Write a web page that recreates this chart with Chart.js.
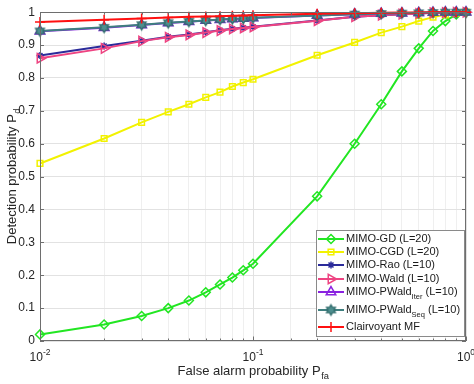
<!DOCTYPE html>
<html><head><meta charset="utf-8">
<script src="https://cdn.jsdelivr.net/npm/chart.js@4/dist/chart.umd.min.js"></script>
<style>html,body{margin:0;padding:0;background:#fff}</style>
</head><body>
<canvas id="c" width="474" height="384" style="display:block;width:474px;height:384px"></canvas>
<script>
// ---- data ----
const falseAlarm = [0.01,0.02,0.03,0.04,0.05,0.06,0.07,0.08,0.09,0.1,0.2,0.3,0.4,0.5,0.6,0.7,0.8,0.9,1];
const pdGD   = [0.02,0.05,0.076,0.10,0.123,0.148,0.172,0.193,0.215,0.235,0.44,0.60,0.72,0.82,0.89,0.943,0.973,0.993,1.0];
const pdCGD  = [0.54,0.616,0.665,0.697,0.72,0.741,0.757,0.774,0.786,0.796,0.869,0.908,0.938,0.956,0.973,0.985,0.992,0.997,1.0];
const pdRao  = [0.868,0.897,0.913,0.925,0.932,0.939,0.945,0.95,0.953,0.956,0.975,0.986,0.991,0.994,0.996,0.998,0.999,1.0,1.0];
const pdWald = [0.86,0.89,0.912,0.924,0.931,0.938,0.944,0.949,0.952,0.955,0.974,0.986,0.991,0.994,0.996,0.998,0.999,1.0,1.0];
const pdPWaldIter = [0.942,0.953,0.961,0.967,0.971,0.975,0.977,0.979,0.981,0.982,0.99,0.994,0.996,0.997,0.998,0.999,1,1,1];
const pdPWaldSeq  = [0.943,0.954,0.962,0.968,0.972,0.975,0.978,0.98,0.981,0.983,0.99,0.994,0.996,0.997,0.998,0.999,1,1,1];
const pdMF   = [0.970,0.977,0.981,0.984,0.986,0.987,0.988,0.989,0.99,0.991,0.995,0.997,0.998,0.999,0.999,1,1,1,1];
const seriesNames = ['MIMO-GD (L=20)','MIMO-CGD (L=20)','MIMO-Rao (L=10)','MIMO-Wald (L=10)','MIMO-PWald|Iter| (L=10)','MIMO-PWald|Seq| (L=10)','Clairvoyant MF'];
const yTickValues = [0,0.1,0.2,0.3,0.4,0.5,0.6,0.7,0.8,0.9,1];
const xTickExponents = [-2,-1,0];
const xTitle = ['False alarm probability P','fa'];
const yTitle = ['Detection probability P','d'];

const FONT = '"Liberation Sans", Arial, Helvetica, sans-serif';

function hexagram(r, fill, stroke){
  const s = Math.ceil(2*r+4), c = document.createElement('canvas');
  c.width = s; c.height = s;
  const g = c.getContext('2d'), cx = s/2, cy = s/2, ri = r/Math.sqrt(3);
  g.beginPath();
  for (let k=0;k<12;k++){
    const a = -Math.PI/2 + k*Math.PI/6, rr = (k%2===0)? r : ri;
    const px = cx + rr*Math.cos(a), py = cy + rr*Math.sin(a);
    k===0 ? g.moveTo(px,py) : g.lineTo(px,py);
  }
  g.closePath(); g.fillStyle = fill; g.fill(); g.lineWidth = 1.2; g.strokeStyle = stroke; g.stroke();
  return c;
}
const seqStar = hexagram(5.2, '#4f8f8f', '#2e6a6a');

const styles = [
  {color:'#22e622', pointStyle:'rectRot', radius:4.5, rotation:0, fill:'rgba(0,0,0,0)'},
  {color:'#f2f200', pointStyle:'rect', radius:4, rotation:0, fill:'rgba(0,0,0,0)'},
  {color:'#2b2b9a', pointStyle:'star', radius:3.5, rotation:0, fill:'rgba(0,0,0,0)'},
  {color:'#ee4482', pointStyle:'triangle', radius:5.5, rotation:90, fill:'rgba(0,0,0,0)'},
  {color:'#8a22e0', pointStyle:'triangle', radius:5.5, rotation:0, fill:'rgba(0,0,0,0)'},
  {color:'#3f7f7f', pointStyle:seqStar, radius:5, rotation:0, fill:'#4f8f8f'},
  {color:'#ff1010', pointStyle:'cross', radius:5, rotation:0, fill:'rgba(0,0,0,0)'}
];
const series = [pdGD, pdCGD, pdRao, pdWald, pdPWaldIter, pdPWaldSeq, pdMF];

const datasets = series.map((vals,i)=>({
  label: seriesNames[i],
  data: falseAlarm.map((x,j)=>({x:x, y:vals[j]})),
  borderColor: styles[i].color,
  backgroundColor: styles[i].fill,
  pointBorderColor: styles[i].color,
  pointBackgroundColor: styles[i].fill,
  pointStyle: styles[i].pointStyle,
  pointRadius: styles[i].radius,
  pointRotation: styles[i].rotation,
  pointBorderWidth: 1.5,
  borderWidth: 2,
  tension: 0,
  clip: false,
  order: 7 - i
}));

function isPow10(v){ const l = Math.log10(v); return Math.abs(l - Math.round(l)) < 1e-9; }

function drawSubText(ctx, main, sub, x, y, size){
  ctx.font = size + 'px ' + FONT;
  const w1 = ctx.measureText(main).width;
  ctx.font = (size*0.72) + 'px ' + FONT;
  const w2 = ctx.measureText(sub).width;
  const start = x - (w1+w2)/2;
  ctx.textAlign = 'left';
  ctx.textBaseline = 'middle';
  ctx.font = size + 'px ' + FONT;
  ctx.fillText(main, start, y);
  ctx.font = (size*0.72) + 'px ' + FONT;
  ctx.fillText(sub, start + w1 + 0.5, y + size*0.38);
}

const decor = {
  id:'decor',
  afterDraw(chart){
    const ctx = chart.ctx, ca = chart.chartArea, xs = chart.scales.x, ys = chart.scales.y;
    ctx.save();
    // box + inward ticks
    ctx.strokeStyle = '#6e6e6e'; ctx.lineWidth = 1;
    ctx.strokeRect(Math.round(ca.left)+0.5, Math.round(ca.top)+0.5, Math.round(ca.right-ca.left)-1, Math.round(ca.bottom-ca.top)-1);
    ctx.beginPath();
    yTickValues.forEach(v=>{
      const py = Math.round(ys.getPixelForValue(v))+0.5;
      ctx.moveTo(ca.left, py); ctx.lineTo(ca.left+4, py);
      ctx.moveTo(ca.right, py); ctx.lineTo(ca.right-4, py);
    });
    xs.ticks.forEach(t=>{
      const px = Math.round(xs.getPixelForValue(t.value))+0.5;
      const len = isPow10(t.value) ? 4.5 : 2.5;
      ctx.moveTo(px, ca.bottom); ctx.lineTo(px, ca.bottom-len);
      ctx.moveTo(px, ca.top); ctx.lineTo(px, ca.top+len);
    });
    ctx.stroke();
    // x tick labels 10^n
    ctx.fillStyle = '#262626';
    xTickExponents.forEach(e=>{
      const px = xs.getPixelForValue(Math.pow(10,e));
      ctx.font = '12px ' + FONT;
      const w1 = ctx.measureText('10').width;
      ctx.font = '8.5px ' + FONT;
      const sup = (e<0 ? '-' : '') + Math.abs(e);
      const w2 = ctx.measureText(sup).width;
      const st = px - (w1+w2)/2;
      ctx.textAlign='left'; ctx.textBaseline='alphabetic';
      ctx.font = '12px ' + FONT; ctx.fillText('10', st, ca.bottom+20);
      ctx.font = '8.5px ' + FONT; ctx.fillText(sup, st+w1, ca.bottom+14);
    });
    // axis titles
    drawSubText(ctx, xTitle[0], xTitle[1], (ca.left+ca.right)/2, ca.bottom+30, 13);
    ctx.save();
    ctx.translate(12, (ca.top+ca.bottom)/2);
    ctx.rotate(-Math.PI/2);
    drawSubText(ctx, yTitle[0], yTitle[1], 0, 0, 13);
    ctx.restore();
    // legend
    const bx = ca.right - 150, by = ca.bottom - 111, bw = 148, bh = 106;
    ctx.fillStyle = '#ffffff';
    ctx.fillRect(bx, by, bw, bh);
    ctx.strokeStyle = '#8a8a8a'; ctx.lineWidth = 1;
    ctx.strokeRect(Math.round(bx)+0.5, Math.round(by)+0.5, bw, bh);
    const rowY = [9, 22, 35, 49, 62, 80, 97];
    chart.data.datasets.forEach((ds,i)=>{
      const y = by + rowY[i];
      const x0 = bx + 2, x1 = bx + 28, xm = (x0+x1)/2;
      ctx.strokeStyle = ds.borderColor; ctx.lineWidth = 2;
      ctx.beginPath(); ctx.moveTo(x0, y); ctx.lineTo(x1, y); ctx.stroke();
      ctx.strokeStyle = ds.pointBorderColor; ctx.fillStyle = ds.pointBackgroundColor; ctx.lineWidth = 1.5;
      if (Chart.helpers && Chart.helpers.drawPoint) {
        Chart.helpers.drawPoint(ctx, {pointStyle: ds.pointStyle, rotation: ds.pointRotation, radius: ds.pointRadius, borderWidth: 1.5}, xm, y);
      }
      ctx.fillStyle = '#1a1a1a';
      const parts = ds.label.split('|');
      ctx.textAlign='left'; ctx.textBaseline='middle';
      let tx = bx + 30;
      ctx.font = '11px ' + FONT;
      ctx.fillText(parts[0], tx, y);
      if (parts.length > 1) {
        tx += ctx.measureText(parts[0]).width;
        ctx.font = '7.5px ' + FONT;
        ctx.fillText(parts[1], tx, y + 5);
        tx += ctx.measureText(parts[1]).width;
        ctx.font = '11px ' + FONT;
        ctx.fillText(parts[2], tx, y);
      }
    });
    ctx.restore();
  }
};

new Chart(document.getElementById('c'), {
  type: 'line',
  data: { datasets },
  options: {
    responsive: false,
    devicePixelRatio: 1,
    animation: false,
    layout: { padding: { top: 6, right: 8, left: 0, bottom: 0 } },
    plugins: { legend: { display: false }, tooltip: { enabled: false } },
    scales: {
      x: {
        type: 'logarithmic', min: 0.01, max: 1,
        afterFit(s){ s.height = 43; },
        border: { display: false },
        grid: { drawTicks: false, lineWidth: 1,
          color: (c)=> (c.tick && isPow10(c.tick.value)) ? '#e2e2e2' : '#efefef' },
        ticks: { autoSkip: false, maxRotation: 0, callback: ()=> '', font: { size: 12, family: FONT } }
      },
      y: {
        min: 0, max: 1,
        afterFit(s){ s.width = 40; },
        afterBuildTicks(s){ s.ticks = yTickValues.map(v=>({value:v})); },
        border: { display: false },
        grid: { drawTicks: false, color: '#e2e2e2' },
        ticks: { padding: 5, color: '#262626', font: { size: 12, family: FONT },
          callback: (v)=> String(Math.round(v*10)/10) }
      }
    }
  },
  plugins: [decor]
});
</script>
</body></html>
